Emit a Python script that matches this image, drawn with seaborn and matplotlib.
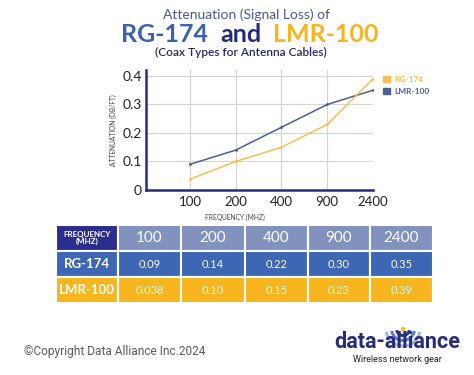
import pandas as pd
import matplotlib.pyplot as plt
import seaborn as sns
from matplotlib.patches import Patch, Arc, Circle

freqs = ["100", "200", "400", "900", "2400"]
rg174 = [0.09, 0.14, 0.22, 0.30, 0.35]
lmr100 = [0.038, 0.10, 0.15, 0.23, 0.39]
y_ticks = [0, 0.1, 0.2, 0.3, 0.4]
y_ticklabels = ["0", "0.1", "0.2", "0.3", "0.4"]
# legend in the source image pairs the names the other way round
legend_names = ["RG-174", "LMR-100"]

BLUE = "#4a5f96"
YELLOW = "#f4c04f"
NAVY = "#262c7c"
ROW_BLUE = "#3d66b4"
ROW_YELLOW = "#f8b51d"
HEAD_GREY = "#8192bf"


def fmt(v):
    return f"{v:.2f}" if round(v, 2) == v else f"{v:.3f}"


sns.set_theme(style="white")
plt.rcParams["font.family"] = ["Lato", "DejaVu Sans"]

W, H = 474, 375
fig = plt.figure(figsize=(W / 100, H / 100), dpi=100)

df = pd.DataFrame({"freq": freqs * 2,
                   "att": rg174 + lmr100,
                   "cable": ["rg"] * 5 + ["lmr"] * 5})

ax = fig.add_axes([146 / W, 1 - 190 / H, (373 - 146) / W, (190 - 70) / H])
sns.lineplot(data=df, x="freq", y="att", hue="cable",
             palette={"rg": BLUE, "lmr": YELLOW}, linewidth=1.1,
             marker="o", markersize=2, markeredgewidth=0, legend=False, ax=ax)
ax.set_xlim(-0.96, 4)
ax.set_ylim(0, 0.421)
ax.set_yticks(y_ticks)
ax.set_yticklabels(y_ticklabels)
ax.grid(True, color="#d4d4d4", linewidth=0.8)
for s in ["top", "right"]:
    ax.spines[s].set_visible(False)
for s in ["left", "bottom"]:
    ax.spines[s].set_color(NAVY)
    ax.spines[s].set_linewidth(1.8)
ax.tick_params(axis="both", length=0, labelsize=10, colors="#222222")
ax.tick_params(axis="y", pad=3)
ax.tick_params(axis="x", pad=4, labelsize=9.5)
ax.set_xlabel("")
ax.set_ylabel("ATTENUATION (DB/FT)", fontsize=4.8, color="#444444", labelpad=4)

handles = [Patch(color=YELLOW), Patch(color=BLUE)]
ax.legend(handles, legend_names, loc="upper left", bbox_to_anchor=(1.03, 0.98),
          frameon=False, handlelength=0.8, handleheight=0.8,
          handletextpad=0.5, labelspacing=0.6, borderaxespad=0,
          labelcolor=[YELLOW, BLUE], prop={"weight": "bold", "size": 6})

# overlay in pixel coordinates for titles, footer and logo
ov = fig.add_axes([0, 0, 1, 1], zorder=5)
ov.set_xlim(0, W)
ov.set_ylim(H, 0)
ov.axis("off")
ov.patch.set_alpha(0)

ov.text(247, 19, "Attenuation (Signal Loss) of", ha="center", va="baseline",
        fontsize=10, color="#4b5b8e")
ov.text(208, 42.5, "RG-174", ha="right", va="baseline", fontsize=18,
        weight="bold", color="#3a62ad")
ov.text(241, 42.5, "and", ha="center", va="baseline", fontsize=18,
        weight="bold", color="#232b7a")
ov.text(273, 42.5, "LMR-100", ha="left", va="baseline", fontsize=18,
        weight="bold", color="#f7b51f")
ov.text(241, 55.5, "(Coax Types for Antenna Cables)", ha="center",
        va="baseline", fontsize=8.6, weight="semibold", color="#252a5e")
ov.text(235, 217, "FREQUENCY (MHZ)", ha="center", va="center",
        fontsize=4.8, color="#444444")

# footer
ov.text(24, 355, "\u00a9Copyright Data Alliance Inc.2024", ha="left",
        va="baseline", fontsize=8.6, color="#5a5a5a", family="Roboto")

# logo
cx, cy = 403, 329
for r, c in [(17, "#a7b7e4"), (11.5, "#5d7cc9"), (6.5, "#2b3b96")]:
    ov.add_patch(Arc((cx, cy), 2 * r, 2 * r, theta1=10, theta2=170,
                     color=c, linewidth=2.2))
ov.add_patch(Circle((cx, cy), 1.6, color="#f7c21c"))
ov.text(397, 348.5, "data-alliance", ha="center", va="baseline", fontsize=15.5,
        weight="bold", color=NAVY, family="Roboto", zorder=6)
ov.text(397, 362, "Wireless network gear", ha="center", va="baseline",
        fontsize=6.5, color="#222222", family="Roboto")

# table
tax = fig.add_axes([56 / W, 1 - 303 / H, (433 - 56) / W, (303 - 225) / H])
tax.axis("off")
cells = [["FREQUENCY\n(MHZ)"] + freqs,
         ["RG-174"] + [fmt(v) for v in rg174],
         ["LMR-100"] + [fmt(v) for v in lmr100]]
tbl = tax.table(cellText=cells, bbox=[0, 0, 1, 1], cellLoc="center",
                colWidths=[62, 63, 64, 63, 62, 63])
tbl.auto_set_font_size(False)
row_colors = [HEAD_GREY, ROW_BLUE, ROW_YELLOW]
for (r, c), cell in tbl.get_celld().items():
    cell.set_edgecolor("white")
    cell.set_linewidth(1.5)
    fc = row_colors[r]
    if r == 0 and c == 0:
        fc = "#2a2d8c"
    cell.set_facecolor(fc)
    t = cell.get_text()
    t.set_color("white")
    if r == 0 and c == 0:
        t.set_fontsize(5.8)
        t.set_weight("bold")
        t.set_linespacing(1.0)
    elif r == 0:
        t.set_fontsize(11)
    elif c == 0:
        t.set_fontsize(9.5)
        t.set_weight("bold")
    else:
        t.set_fontsize(8)

fig.savefig("out.png", dpi=100)
